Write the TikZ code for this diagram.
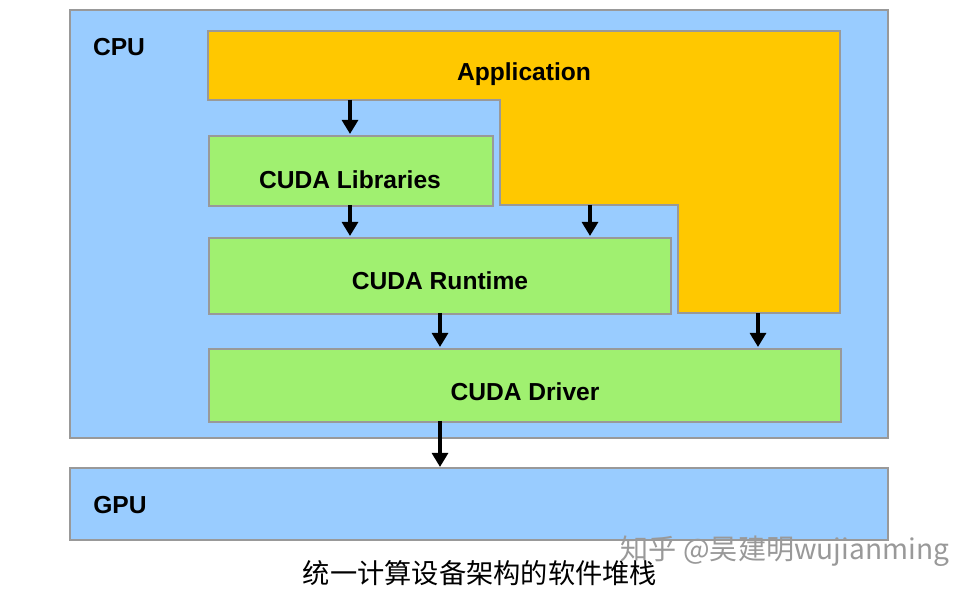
\documentclass[tikz,border=0pt]{standalone}
\usepackage{fontspec}
\setmainfont{Liberation Sans}
\newfontfamily\cjk{Noto Sans CJK SC}
\usetikzlibrary{arrows.meta}
\definecolor{cpublue}{HTML}{99CCFF}
\definecolor{appor}{HTML}{FFC800}
\definecolor{cudagr}{HTML}{A0F070}
\definecolor{bord}{HTML}{999999}
\begin{document}
\begin{tikzpicture}[x=0.02cm,y=-0.02cm,
  box/.style={draw=bord,line width=1pt},
  lbl/.style={font=\fontsize{14}{16}\selectfont\bfseries},
  arr/.style={line width=2.4pt,-{Triangle[length=8pt,width=9pt]}}]
\useasboundingbox (0,0) rectangle (977,597);
\fill[white] (0,0) rectangle (977,597);
\draw[box,fill=cpublue] (70,10) rectangle (888,438);
\draw[box,fill=cpublue] (70,468) rectangle (888,540);
\draw[box,fill=appor] (208,31) -- (840,31) -- (840,313) -- (678,313) -- (678,205) -- (500,205) -- (500,100) -- (208,100) -- cycle;
\coordinate (appA) at (350,100);
\coordinate (appB) at (590,205);
\coordinate (appC) at (758,313);
\node[box,fill=cudagr,minimum width=284*0.02cm,minimum height=70*0.02cm,anchor=north west] (lib) at (208,135) {};
\node[box,fill=cudagr,minimum width=462*0.02cm,minimum height=76*0.02cm,anchor=north west] (rt) at (208,237) {};
\node[box,fill=cudagr,minimum width=632*0.02cm,minimum height=73*0.02cm,anchor=north west] (drv) at (208,348) {};
\node[lbl] (cpu) at (119,47) {CPU};
\node[lbl] (gpu) at (120,505) {GPU};
\node[lbl] (app) at (524,74) {Application};
\node[lbl] at (350,180) {CUDA Libraries};
\node[lbl] at (440,281) {CUDA Runtime};
\node[lbl] at (525,392) {CUDA Driver};
\draw[arr] (appA) -- (350,134);
\draw[arr] (350,205) -- (350,236);
\draw[arr] (appB) -- (590,236);
\draw[arr] (440,313) -- (440,347);
\draw[arr] (appC) -- (758,347);
\draw[arr] (440,421) -- (440,467);
\node[font=\cjk\fontsize{15.5}{17}\selectfont] (cap) at (480,573) {统一计算设备架构的软件堆栈};
\node[font=\cjk\fontsize{16}{18}\selectfont,text=black!40] (wm) at (785,551) {知乎 @吴建明wujianming};
\end{tikzpicture}
\end{document}
